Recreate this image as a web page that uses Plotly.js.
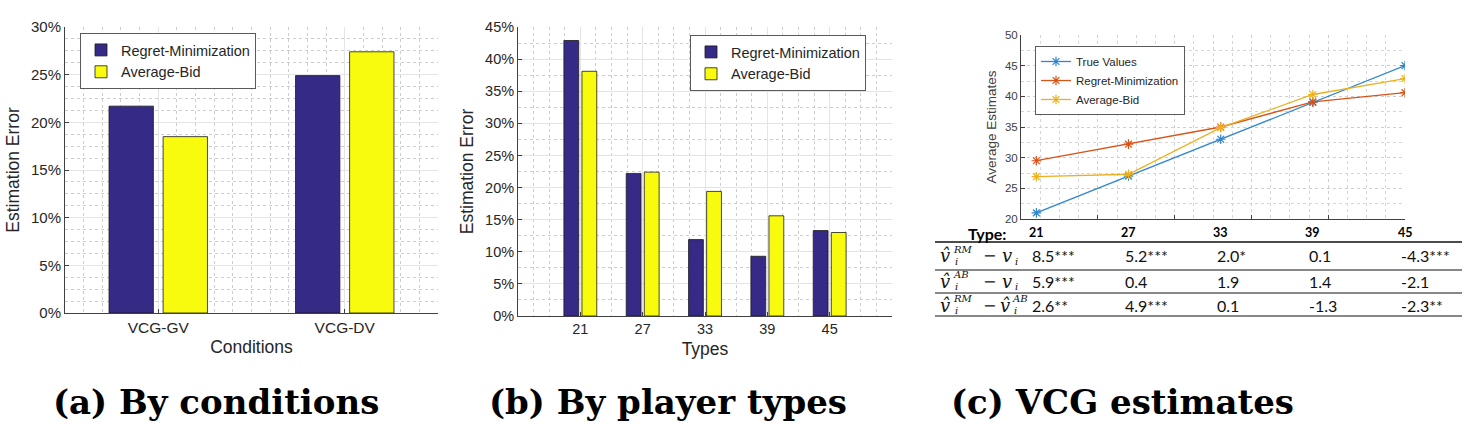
<!DOCTYPE html>
<html>
<head>
<meta charset="utf-8">
<script src="https://cdn.plot.ly/plotly-3.0.1.min.js"></script>
<style>
  html, body { margin: 0; padding: 0; background: #fff; }
  #chart { width: 1464px; height: 425px; }
</style>
</head>
<body>
<div id="chart"></div>
<script>
// (a) estimation error by condition, in %
var conditions = ['VCG-GV', 'VCG-DV'];
var condRM = [21.7, 24.9];
var condAB = [18.5, 27.4];

// (b) estimation error by player type, in %
var types = [21, 27, 33, 39, 45];
var typeRM = [42.9, 22.2, 11.9, 9.3, 13.3];
var typeAB = [38.1, 22.4, 19.4, 15.6, 13.0];

// (c) average estimates
var trueVals = [21, 27, 33, 39, 45];
var estRM = [29.5, 32.2, 35.0, 39.1, 40.6];
var estAB = [26.9, 27.3, 34.9, 40.3, 42.9];

// (c) table of differences and significance stars
var diffRM = [8.5, 5.2, 2.0, 0.1, -4.3];
var starsRM = [3, 3, 1, 0, 3];
var diffAB = [5.9, 0.4, 1.9, 1.4, -2.1];
var starsAB = [3, 0, 0, 0, 0];
var diffRA = [2.6, 4.9, 0.1, -1.3, -2.3];
var starsRA = [2, 3, 0, 0, 2];

var W = 1464, H = 425;
function px(x) { return x / W; }
function py(y) { return 1 - y / H; }

var NAVY = '#352a86', YELLOW = '#f9fb0e';
var SANS = 'Liberation Sans, Arial, sans-serif';
var TXT = '#262626';
var barLine = {color: '#1a1a1a', width: 0.8};

var condPos = conditions.map(function (c, i) { return i + 1; });
var typePos = types.map(function (t, i) { return i + 1; });

var data = [
  {type: 'bar', name: 'Regret-Minimization', x: condPos, y: condRM, xaxis: 'x', yaxis: 'y',
   marker: {color: NAVY, line: barLine}, legend: 'legend'},
  {type: 'bar', name: 'Average-Bid', x: condPos, y: condAB, xaxis: 'x', yaxis: 'y',
   marker: {color: YELLOW, line: barLine}, legend: 'legend'},
  {type: 'bar', name: 'Regret-Minimization', x: typePos, y: typeRM, xaxis: 'x2', yaxis: 'y2',
   marker: {color: NAVY, line: barLine}, legend: 'legend2'},
  {type: 'bar', name: 'Average-Bid', x: typePos, y: typeAB, xaxis: 'x2', yaxis: 'y2',
   marker: {color: YELLOW, line: barLine}, legend: 'legend2'}
];

var lineSeries = [
  {name: 'True Values', y: trueVals, color: '#2f86cf'},
  {name: 'Regret-Minimization', y: estRM, color: '#d95319'},
  {name: 'Average-Bid', y: estAB, color: '#edb120'}
];
lineSeries.forEach(function (s) {
  data.push({
    type: 'scatter', mode: 'lines+markers', name: s.name, x: types, y: s.y,
    xaxis: 'x3', yaxis: 'y3', legend: 'legend3',
    line: {color: s.color, width: 1.3},
    marker: {symbol: 'asterisk-open', size: 8, color: s.color, line: {color: s.color, width: 1.2}}
  });
});

function barX(dom, range, tickvals, ticktext, minorStep, title) {
  return {
    domain: dom, range: range, tickvals: tickvals, ticktext: ticktext,
    showline: true, linecolor: '#404040', linewidth: 1, mirror: false,
    ticks: 'inside', ticklen: 4, tickcolor: '#404040',
    showgrid: true, gridcolor: '#e4e4e4', zeroline: false,
    minor: {dtick: minorStep, tick0: 0, showgrid: true, gridcolor: '#cdcdcd', griddash: 'dot', ticks: ''},
    tickfont: {family: SANS, size: 15.5, color: TXT},
    title: {text: title, font: {family: SANS, size: 17.5, color: TXT}, standoff: 6},
    fixedrange: true
  };
}
function barY(dom, range, minorStep, xanchor) {
  return {
    domain: dom, range: range, dtick: 5, ticksuffix: '%', anchor: xanchor,
    showline: true, linecolor: '#404040', linewidth: 1,
    ticks: 'inside', ticklen: 4, tickcolor: '#404040',
    showgrid: true, gridcolor: '#e4e4e4', zeroline: false,
    minor: {dtick: minorStep, showgrid: true, gridcolor: '#cdcdcd', griddash: 'dot', ticks: ''},
    tickfont: {family: SANS, size: 15, color: TXT},
    title: {text: 'Estimation Error', font: {family: SANS, size: 17.5, color: TXT}, standoff: 6},
    fixedrange: true
  };
}

function legendAt(x, y, size) {
  return {
    x: x, y: y, xanchor: 'left', yanchor: 'top', xref: 'paper', yref: 'paper',
    bgcolor: '#ffffff', bordercolor: '#5a5a5a', borderwidth: 1,
    font: {family: SANS, size: size, color: TXT}, tracegroupgap: 0, itemclick: false
  };
}

var xa = barX([px(65), px(438)], [0.5, 2.5], condPos, conditions, 0.1, 'Conditions');
xa.anchor = 'y';
var xb = barX([px(518), px(892)], [0, 6], typePos, types.map(String), 0.25, 'Types');
xb.anchor = 'y2';
xb.tickfont.size = 14.5;

var ya = barY([py(313), py(27)], [0, 30], 1.25, 'x');
var yb = barY([py(316), py(27)], [0, 45], 2.5, 'x2');
yb.tickfont.size = 14.5;

var xc = {
  domain: [px(1021), px(1405)], range: [20, 45], dtick: 5, anchor: 'y3',
  showticklabels: false, showline: true, linecolor: '#404040', linewidth: 1,
  ticks: 'inside', ticklen: 4, tickcolor: '#404040',
  showgrid: true, gridcolor: '#cfcfcf', griddash: 'dot', zeroline: false,
  minor: {dtick: 1.25, tick0: 20, showgrid: true, gridcolor: '#d6d6d6', griddash: 'dot', ticks: ''},
  fixedrange: true
};
var yc = {
  domain: [py(219), py(35)], range: [20, 50], dtick: 5, anchor: 'x3',
  showline: true, linecolor: '#404040', linewidth: 1,
  ticks: 'inside', ticklen: 4, tickcolor: '#404040',
  showgrid: true, gridcolor: '#cfcfcf', griddash: 'dot', zeroline: false,
  minor: {dtick: 2.5, showgrid: true, gridcolor: '#d6d6d6', griddash: 'dot', ticks: ''},
  tickfont: {family: SANS, size: 11.5, color: '#404040'},
  title: {text: 'Average Estimates', font: {family: SANS, size: 13.5, color: '#404040'}, standoff: 5},
  fixedrange: true
};

// ---- table under panel (c) ----
var annotations = [];
var shapes = [];
var TABLE = 'Lato, Open Sans, sans-serif';
var MATH = 'DejaVu Serif, serif';

annotations.push({xref: 'paper', yref: 'paper', x: px(966), y: py(233), xanchor: 'left', yanchor: 'middle',
  text: 'Type:', showarrow: false, font: {family: TABLE, size: 16, weight: 'bold', color: '#000'}});
types.forEach(function (t) {
  annotations.push({xref: 'x3', yref: 'paper', x: t, y: py(232), xanchor: 'center', yanchor: 'middle',
    text: String(t), showarrow: false, font: {family: TABLE, size: 12.5, weight: 'bold', color: '#000'}});
});

function stars(n) { return n ? '*'.repeat(n) : ''; }
var rows = [
  {y: 256, vals: diffRM, st: starsRM},
  {y: 281, vals: diffAB, st: starsAB},
  {y: 305, vals: diffRA, st: starsRA}
];
rows.forEach(function (r) {
  r.vals.forEach(function (v, j) {
    annotations.push({xref: 'x3', yref: 'paper', x: types[j], xshift: -6, y: py(r.y),
      xanchor: 'left', yanchor: 'middle', showarrow: false,
      text: v.toFixed(1) + stars(r.st[j]),
      font: {family: TABLE, size: 16, color: '#111'}});
  });
});

// row labels: v-hat with super/subscripts
function mtext(t, x, y, size) {
  annotations.push({xref: 'paper', yref: 'paper', x: px(x), y: py(y), xanchor: 'left',
    yanchor: 'middle', showarrow: false, text: '<i>' + t + '</i>',
    font: {family: MATH, size: size, color: '#111'}});
}
function mathRow(y, supA, supB) {
  mtext('v\u0302', 938, y, 18);
  mtext(supA, 951, y - 7, 10);
  mtext('i', 953, y + 5, 10);
  mtext('\u2212', 981, y, 16);
  if (supB) {
    mtext('v\u0302', 998, y, 18);
    mtext(supB, 1010, y - 7, 10);
    mtext('i', 1012, y + 5, 10);
  } else {
    mtext('v', 1000, y, 18);
    mtext('i', 1013, y + 5, 10);
  }
}
mathRow(256, 'RM');
mathRow(281, 'AB');
mathRow(305, 'RM', 'AB');

[[242, 1.6], [270, 1], [293, 1], [316, 1]].forEach(function (l) {
  shapes.push({type: 'line', xref: 'paper', yref: 'paper', x0: px(935), x1: px(1462),
    y0: py(l[0]), y1: py(l[0]), line: {color: '#111', width: l[1]}});
});

// captions
[['(a) By conditions', 216], ['(b) By player types', 668], ['(c) VCG estimates', 1122]].forEach(function (c) {
  annotations.push({xref: 'paper', yref: 'paper', x: px(c[1]), y: py(402), xanchor: 'center', yanchor: 'middle',
    text: c[0], showarrow: false, font: {family: 'DejaVu Serif, serif', size: 34, weight: 'bold', color: '#000'}});
});

var layout = {
  width: W, height: H,
  margin: {l: 0, r: 0, t: 0, b: 0},
  paper_bgcolor: '#fff', plot_bgcolor: '#fff',
  barmode: 'group', bargap: 0.42, bargroupgap: 0.18,
  xaxis: xa, yaxis: ya, xaxis2: xb, yaxis2: yb, xaxis3: xc, yaxis3: yc,
  legend: legendAt(px(80), py(33), 14.5),
  legend2: legendAt(px(690), py(35), 14.5),
  legend3: legendAt(px(1035), py(46), 11.5),
  annotations: annotations,
  shapes: shapes,
  showlegend: true
};

Plotly.newPlot('chart', data, layout, {displayModeBar: false, staticPlot: true});
</script>
</body>
</html>
